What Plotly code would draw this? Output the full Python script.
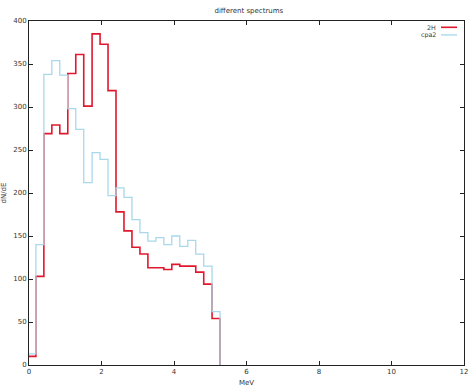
import plotly.graph_objects as go

# bin left edges (MeV) and final right edge
energy_edges = [0.0, 0.19, 0.41, 0.63, 0.85, 1.07, 1.29, 1.51, 1.74, 1.96, 2.18, 2.40,
                2.62, 2.84, 3.06, 3.28, 3.50, 3.72, 3.94, 4.16, 4.38, 4.60, 4.82, 5.05]
energy_end = 5.27
h2_counts = [10, 103, 269, 279, 269, 339, 361, 301, 385, 373, 319, 178,
             156, 137, 129, 113, 113, 111, 117, 115, 115, 108, 94, 54]
cpa2_counts = [13, 140, 338, 354, 337, 298, 274, 212, 247, 239, 197, 206,
               195, 169, 154, 144, 148, 140, 150, 138, 145, 129, 115, 62]
x_ticks = [0, 2, 4, 6, 8, 10, 12]
y_ticks = [0, 50, 100, 150, 200, 250, 300, 350, 400]

RED = "#e0182e"
CYAN = "#a8d8ea"
FONT = "DejaVu Sans"

fig = go.Figure()
fig.add_trace(go.Scatter(x=energy_edges + [energy_end], y=h2_counts + [0],
                         mode="lines", line=dict(shape="hv", color=RED, width=1.6),
                         name="2H", showlegend=False))
fig.add_trace(go.Scatter(x=energy_edges + [energy_end], y=cpa2_counts + [0],
                         mode="lines", line=dict(shape="hv", color=CYAN, width=1.3),
                         name="cpa2", showlegend=False))

# manual legend (gnuplot style: text then sample)
legend_items = [("2H", RED, 1.6), ("cpa2", CYAN, 1.3)]
for i, (lbl, col, w) in enumerate(legend_items):
    yy = 1 - (6.3 + 7.6 * i) / 344
    fig.add_annotation(x=(437 - 29) / 435, y=yy, xref="paper", yref="paper",
                       text=lbl, showarrow=False, xanchor="right", yanchor="middle",
                       borderpad=0, font=dict(family=FONT, size=6.3, color="#333"))
    fig.add_shape(type="line", xref="paper", yref="paper",
                  x0=(441 - 29) / 435, x1=(457 - 29) / 435, y0=yy, y1=yy,
                  line=dict(color=col, width=w))

axis_common = dict(showline=True, linecolor="#222", linewidth=1, mirror="ticks",
                   ticks="inside", ticklen=4, tickcolor="#222", showgrid=False,
                   zeroline=False, automargin=False,
                   tickfont=dict(family=FONT, size=7, color="#333"))
fig.update_xaxes(range=[0, 12], tickvals=x_ticks, **axis_common,
                 title=dict(text="MeV", font=dict(family=FONT, size=7, color="#333"), standoff=4))
fig.update_yaxes(range=[0, 400], tickvals=y_ticks, **axis_common,
                 title=dict(text="dN/dE", font=dict(family=FONT, size=7, color="#333"), standoff=6))

fig.update_layout(
    width=474, height=387,
    margin=dict(l=29, r=10, t=21, b=22),
    paper_bgcolor="white", plot_bgcolor="white",
    title=dict(text="different spectrums", x=0.525, xanchor="center", y=1 - 11 / 387,
               yanchor="middle", font=dict(family=FONT, size=7, color="#333")),
)
fig.write_html("out.html", config={"displayModeBar": False},
               post_script="document.body.style.margin='0';document.body.style.padding='0';"
                           "document.body.style.overflow='hidden';")
